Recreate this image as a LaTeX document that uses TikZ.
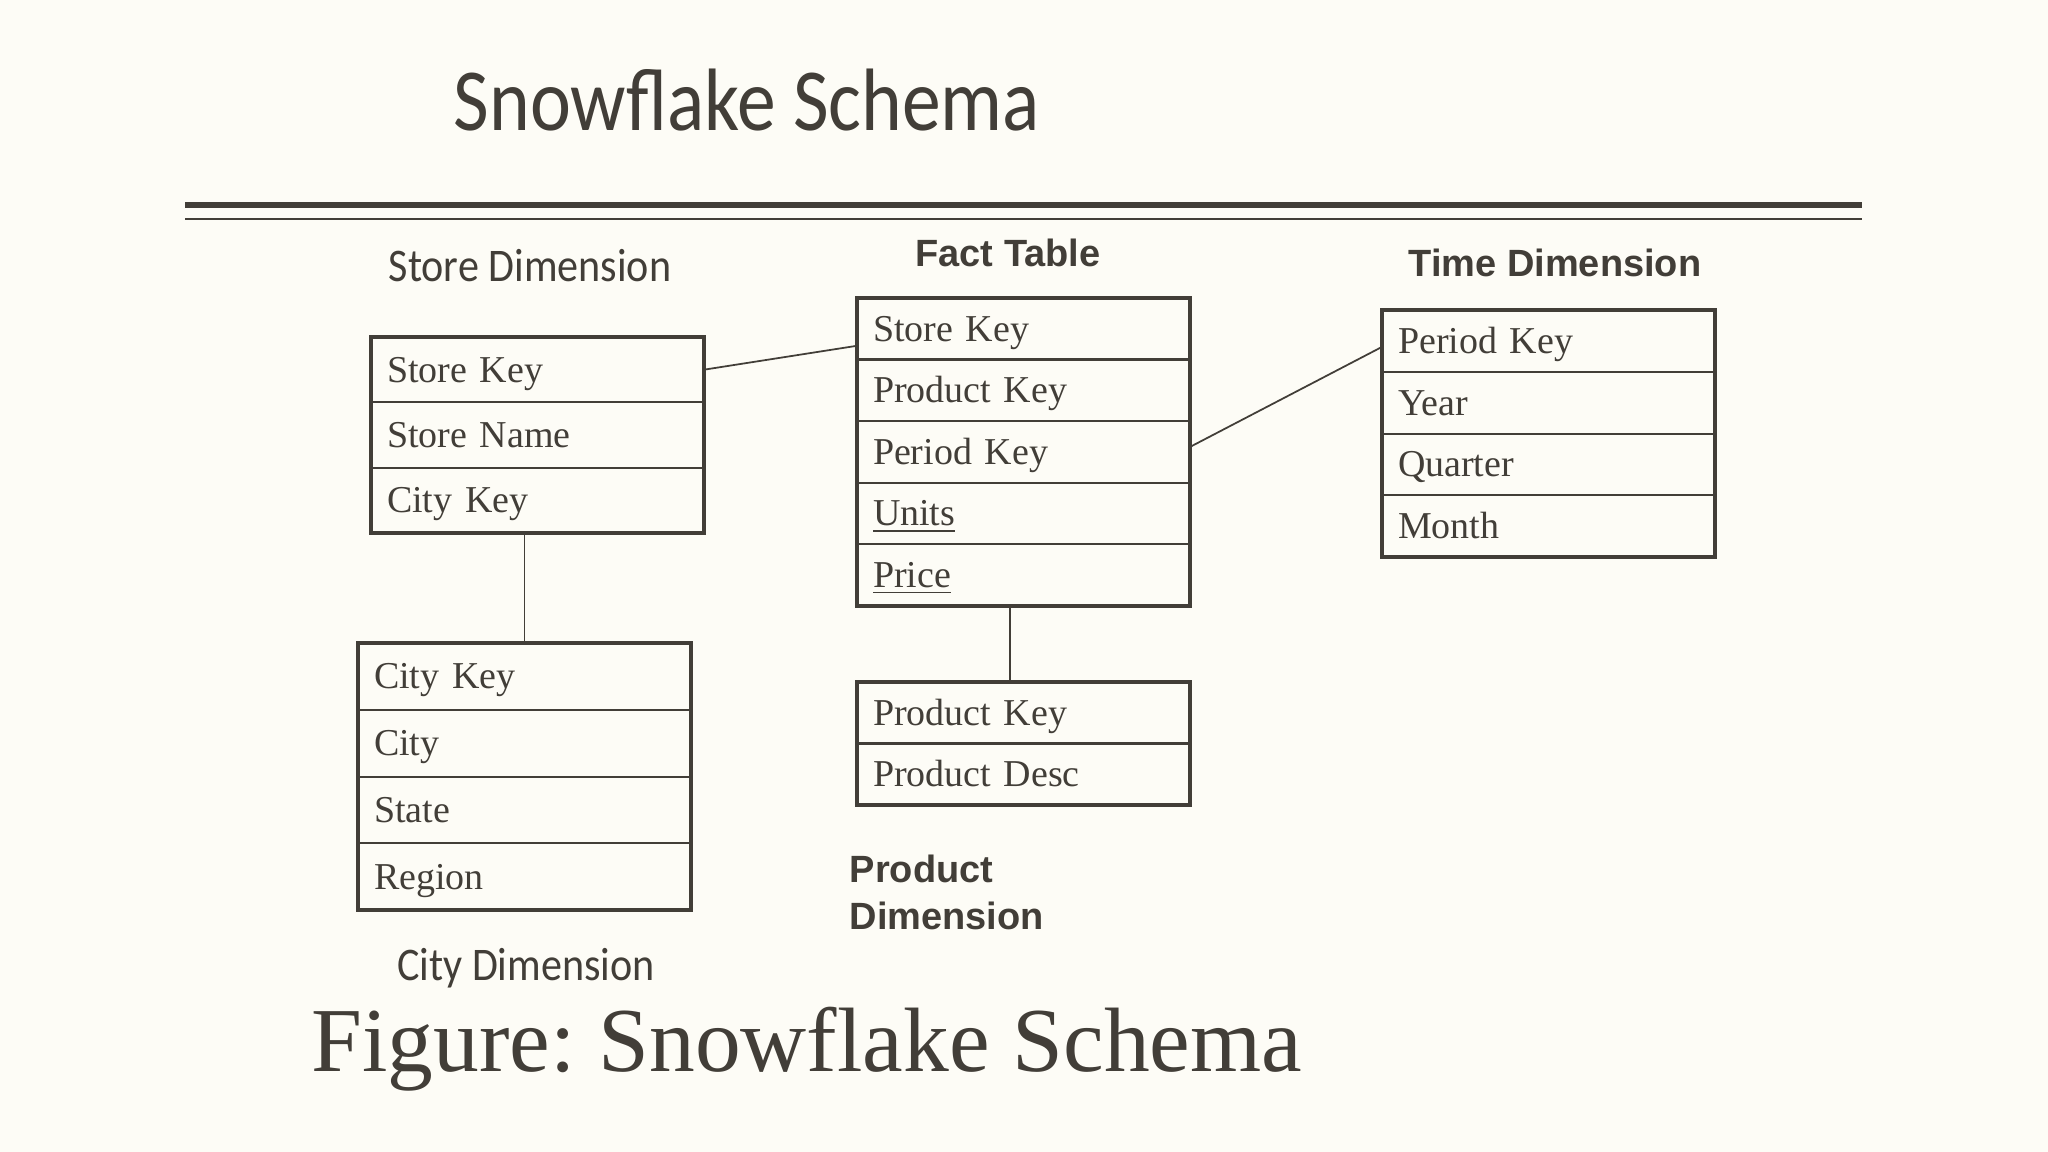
\documentclass[tikz,border=0pt]{standalone}
\usepackage{fontspec}
\setmainfont{Liberation Serif}
\newfontfamily\headfont[FakeStretch=0.9]{Carlito}
\newfontfamily\titlefont[FakeStretch=0.875]{Carlito}
\newfontfamily\boldhead{Liberation Sans}
\usetikzlibrary{positioning}
\frenchspacing

\definecolor{ink}{RGB}{66,62,56}
\definecolor{paper}{RGB}{253,252,246}

\tikzset{
  field/.style={draw=ink,line width=0.6pt,outer sep=0pt,inner xsep=0.16cm,
    minimum width=3.33cm,text width=3.01cm,align=left,minimum height=#1,
    text height=0.25cm,text depth=0pt,text=ink,font=\fontsize{10.8}{13}\selectfont},
  field/.default=0.615cm,
  frame/.style={draw=ink,line width=1.2pt},
  link/.style={draw=ink,line width=0.5pt},
  dimlabel/.style={text=ink,anchor=base,font=\headfont\fontsize{13.3}{16}\selectfont},
  boldlabel/.style={text=ink,font=\boldhead\bfseries\fontsize{10.8}{13.4}\selectfont}
}

\begin{document}
\begin{tikzpicture}[x=0.01cm,y=-0.01cm]
\fill[paper](0,0)rectangle(2048,1152);
\useasboundingbox(0,0)rectangle(2048,1152);

% headings
\node[anchor=base west,inner sep=0pt,text=ink,font=\titlefont\fontsize{25.2}{30}\selectfont](title)at(453,131){Snowflake Schema};
\draw[ink,line width=1.85pt](185,205)--(1862,205);
\draw[ink,line width=0.6pt](185,219)--(1862,219);

\node[dimlabel](storelabel)at(530,282){Store Dimension};
\node[boldlabel,anchor=base](factlabel)at(1008,267){Fact Table};
\node[boldlabel,anchor=base](timelabel)at(1555,277){Time Dimension};

% store dimension
\node[field=0.653cm,anchor=north west](s1)at(371,337){Store Key};
\node[field=0.653cm,below=0pt of s1](s2){Store Name};
\node[field=0.653cm,below=0pt of s2](s3){City Key};
\draw[frame](s1.north west)rectangle(s3.south east);

% fact table
\node[field,anchor=north west](f1)at(857,298){Store Key};
\node[field,below=0pt of f1](f2){Product Key};
\node[field,below=0pt of f2](f3){Period Key};
\node[field,below=0pt of f3](f4){\underline{Units}};
\node[field,below=0pt of f4](f5){\underline{Price}};
\draw[frame](f1.north west)rectangle(f5.south east);

% time dimension
\node[field=0.6175cm,anchor=north west](t1)at(1382,310){Period Key};
\node[field=0.6175cm,below=0pt of t1](t2){Year};
\node[field=0.6175cm,below=0pt of t2](t3){Quarter};
\node[field=0.6175cm,below=0pt of t3](t4){Month};
\draw[frame](t1.north west)rectangle(t4.south east);

% city dimension
\node[field=0.6675cm,anchor=north west](c1)at(358,643){City Key};
\node[field=0.6675cm,below=0pt of c1](c2){City};
\node[field=0.6675cm,below=0pt of c2](c3){State};
\node[field=0.6675cm,below=0pt of c3](c4){Region};
\draw[frame](c1.north west)rectangle(c4.south east);

% product dimension
\node[field,anchor=north west](p1)at(857,682){Product Key};
\node[field,below=0pt of p1](p2){Product Desc};
\draw[frame](p1.north west)rectangle(p2.south east);

% links
\draw[link](s1.east)--([yshift=-0.17cm]f1.west);
\draw[link]([yshift=0.05cm]f3.east)--([yshift=-0.06cm]t1.west);
\draw[link](c1.north)--(c1.north|-s3.south);
\draw[link]([xshift=-0.135cm]p1.north)--([xshift=-0.135cm]f5.south);

\node[boldlabel,anchor=north west,align=left,inner sep=0pt](productlabel)at(849,854){Product\\Dimension};
\node[dimlabel](citylabel)at(526,980){City Dimension};
\node[anchor=base west,inner sep=0pt,text=ink,font=\fontsize{26}{30}\selectfont](caption)at(311,1071){Figure: Snowflake Schema};
\end{tikzpicture}
\end{document}
